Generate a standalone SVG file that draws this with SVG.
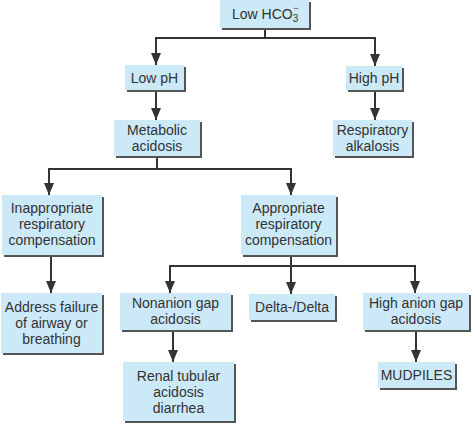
<svg xmlns="http://www.w3.org/2000/svg" width="472" height="425" viewBox="0 0 472 425">
<style>
.sh{fill:#555}
.bx{fill:#cce9f8}
.t{font-family:"Liberation Sans",Arial,sans-serif;font-size:14px;fill:#333;text-anchor:middle}
.c{fill:none;stroke:#333;stroke-width:2}
</style>
<defs>
<marker id="ah" viewBox="0 0 12 10" markerWidth="12" markerHeight="10" refX="12" refY="5" orient="auto" markerUnits="userSpaceOnUse">
<path d="M0,0 L12,5 L0,10 z" fill="#333"/>
</marker>
</defs>
<rect width="472" height="425" fill="#fff"/>
<g id="connectors">
<path class="c" d="M265,30 V38 M156,38 H375"/>
<path class="c" d="M156,37 V65" marker-end="url(#ah)"/>
<path class="c" d="M375,37 V66" marker-end="url(#ah)"/>
<path class="c" d="M156,92 V120" marker-end="url(#ah)"/>
<path class="c" d="M375,92 V120" marker-end="url(#ah)"/>
<path class="c" d="M157,158 V169 M49,169 H291"/>
<path class="c" d="M49,168 V195" marker-end="url(#ah)"/>
<path class="c" d="M291,168 V195" marker-end="url(#ah)"/>
<path class="c" d="M51,257 V293" marker-end="url(#ah)"/>
<path class="c" d="M291,257 V266 M170,266 H415"/>
<path class="c" d="M170,265 V293" marker-end="url(#ah)"/>
<path class="c" d="M291,265 V294" marker-end="url(#ah)"/>
<path class="c" d="M415,265 V293" marker-end="url(#ah)"/>
<path class="c" d="M173,332 V362" marker-end="url(#ah)"/>
<path class="c" d="M416,332 V362" marker-end="url(#ah)"/>
</g>
<g id="n-lowhco3">
<rect class="sh" x="222" y="2" width="89" height="28"/>
<rect class="bx" x="220" y="0" width="89" height="28"/>
<text class="t" x="232" y="19" style="text-anchor:start">Low HCO<tspan font-size="10" dy="3">3</tspan><tspan font-size="9" dx="-5" dy="-11">−</tspan></text>
</g>
<g id="n-lowph">
<rect class="sh" x="127" y="67" width="59" height="25"/>
<rect class="bx" x="125" y="65" width="59" height="25"/>
<text class="t" x="154.5" y="82.5">Low pH</text>
</g>
<g id="n-highph">
<rect class="sh" x="348" y="68" width="56" height="24"/>
<rect class="bx" x="346" y="66" width="56" height="24"/>
<text class="t" x="374" y="83">High pH</text>
</g>
<g id="n-metabolic">
<rect class="sh" x="116" y="122" width="86" height="36"/>
<rect class="bx" x="114" y="120" width="86" height="36"/>
<text class="t" x="157" y="135">Metabolic</text>
<text class="t" x="157" y="151">acidosis</text>
</g>
<g id="n-respalk">
<rect class="sh" x="335" y="122" width="79" height="36"/>
<rect class="bx" x="333" y="120" width="79" height="36"/>
<text class="t" x="372.5" y="135">Respiratory</text>
<text class="t" x="372.5" y="151">alkalosis</text>
</g>
<g id="n-inappropriate">
<rect class="sh" x="4" y="197" width="100" height="60"/>
<rect class="bx" x="2" y="195" width="100" height="60"/>
<text class="t" x="52" y="213">Inappropriate</text>
<text class="t" x="52" y="229">respiratory</text>
<text class="t" x="52" y="245">compensation</text>
</g>
<g id="n-appropriate">
<rect class="sh" x="243" y="197" width="95" height="60"/>
<rect class="bx" x="241" y="195" width="95" height="60"/>
<text class="t" x="288.5" y="213">Appropriate</text>
<text class="t" x="288.5" y="229">respiratory</text>
<text class="t" x="288.5" y="245">compensation</text>
</g>
<g id="n-address">
<rect class="sh" x="3" y="295" width="101" height="60"/>
<rect class="bx" x="1" y="293" width="101" height="60"/>
<text class="t" x="51.5" y="312">Address failure</text>
<text class="t" x="51.5" y="328">of airway or</text>
<text class="t" x="51.5" y="344">breathing</text>
</g>
<g id="n-nonanion">
<rect class="sh" x="122" y="295" width="111" height="37"/>
<rect class="bx" x="120" y="293" width="111" height="37"/>
<text class="t" x="175.5" y="308">Nonanion gap</text>
<text class="t" x="175.5" y="324">acidosis</text>
</g>
<g id="n-delta">
<rect class="sh" x="251" y="296" width="86" height="26"/>
<rect class="bx" x="249" y="294" width="86" height="26"/>
<text class="t" x="292" y="312">Delta-/Delta</text>
</g>
<g id="n-highanion">
<rect class="sh" x="365" y="295" width="106" height="37"/>
<rect class="bx" x="363" y="293" width="106" height="37"/>
<text class="t" x="416" y="308">High anion gap</text>
<text class="t" x="416" y="324">acidosis</text>
</g>
<g id="n-renal">
<rect class="sh" x="125" y="364" width="111" height="59"/>
<rect class="bx" x="123" y="362" width="111" height="59"/>
<text class="t" x="178.5" y="381">Renal tubular</text>
<text class="t" x="178.5" y="397">acidosis</text>
<text class="t" x="178.5" y="413">diarrhea</text>
</g>
<g id="n-mudpiles">
<rect class="sh" x="380" y="364" width="77" height="26"/>
<rect class="bx" x="378" y="362" width="77" height="26"/>
<text class="t" x="416.5" y="380">MUDPILES</text>
</g>
</svg>
